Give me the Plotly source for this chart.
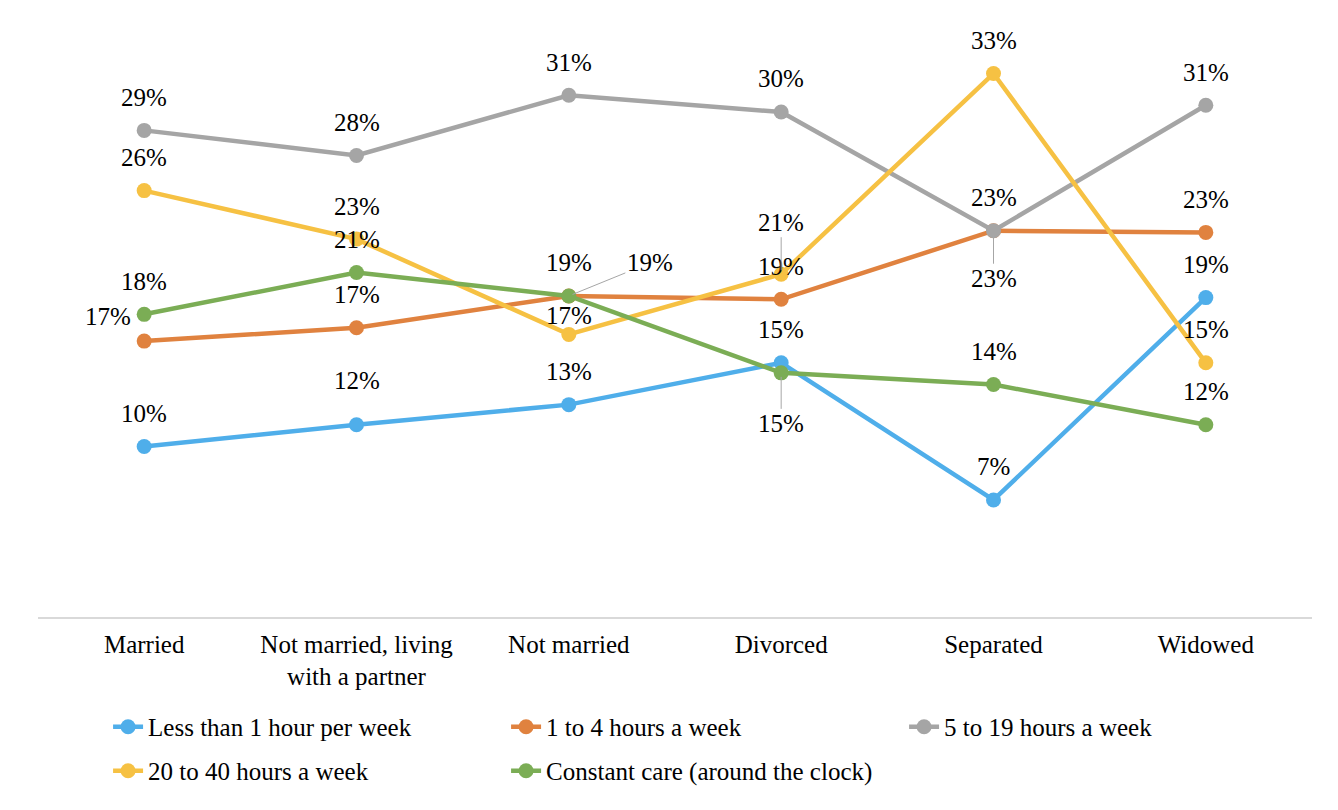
import math
import plotly.graph_objects as go

# ---------------- data ----------------
categories = ["Married", "Not married, living with a partner", "Not married",
              "Divorced", "Separated", "Widowed"]
tick_labels = ["Married", "Not married, living<br>with a partner", "Not married",
               "Divorced", "Separated", "Widowed"]

series_names = ["Less than 1 hour per week", "1 to 4 hours a week",
                "5 to 19 hours a week", "20 to 40 hours a week",
                "Constant care (around the clock)"]

less_than_1h = [10.2, 11.5, 12.7, 15.2, 7.0, 19.1]
one_to_4h = [16.5, 17.3, 19.2, 19.0, 23.1, 23.0]
five_to_19h = [29.1, 27.6, 31.2, 30.2, 23.1, 30.6]
twenty_to_40h = [25.5, 22.6, 16.9, 20.5, 32.5, 15.2]
constant_care = [18.1, 20.6, 19.2, 14.6, 13.9, 11.5]

# ---------------- styles ----------------
colors = ["#4FAEEA", "#E0823F", "#A5A5A5", "#F6C143", "#7BAD55"]
FONT = "Liberation Serif"
FS = 25

series_values = [less_than_1h, one_to_4h, five_to_19h, twenty_to_40h, constant_care]
legend_ids = ["legend", "legend", "legend", "legend2", "legend2"]

# label offsets in pixels (dx, dy, leader line) per series per category
DEFAULT = (0, -33, False)
label_offsets = [[DEFAULT] * 6 for _ in range(5)]
label_offsets[0][1] = (0, -44, False)
label_offsets[1][0] = (-36, -25, False)
label_offsets[1][4] = (0, 48, True)
label_offsets[3][2] = (0, -19, False)
label_offsets[3][3] = (0, -52, True)
label_offsets[4][2] = (81, -33, True)
label_offsets[4][3] = (0, 51, True)


def pct(v):
    return f"{int(math.floor(v + 0.5))}%"


fig = go.Figure()
annotations = []
for i, (name, vals) in enumerate(zip(series_names, series_values)):
    fig.add_trace(go.Scatter(
        x=categories, y=vals, name=name, mode="lines+markers",
        line=dict(color=colors[i], width=4.5),
        marker=dict(color=colors[i], size=15),
        legend=legend_ids[i],
        hoverinfo="skip",
    ))
    for j, (c, v) in enumerate(zip(categories, vals)):
        dx, dy, leader = label_offsets[i][j]
        if leader:
            annotations.append(dict(
                x=c, y=v, xref="x", yref="y", text=pct(v),
                showarrow=True, arrowhead=0, arrowwidth=1, arrowcolor="#A6A6A6",
                ax=dx, ay=dy, standoff=4,
                font=dict(family=FONT, size=FS, color="black"),
            ))
        else:
            annotations.append(dict(
                x=c, y=v, xref="x", yref="y", text=pct(v),
                showarrow=False, xshift=dx, yshift=-dy,
                xanchor="center", yanchor="middle",
                font=dict(family=FONT, size=FS, color="black"),
            ))

legend_common = dict(
    orientation="h", xanchor="left", yanchor="middle",
    entrywidth=353, entrywidthmode="pixels",
    font=dict(family=FONT, size=FS, color="black"),
    bgcolor="rgba(0,0,0,0)", itemclick=False, itemdoubleclick=False,
)

fig.update_layout(
    width=1338, height=810,
    margin=dict(l=38, r=26, t=15, b=193),
    paper_bgcolor="white", plot_bgcolor="white",
    font=dict(family=FONT, size=FS, color="black"),
    xaxis=dict(
        type="category", categoryorder="array", categoryarray=categories,
        tickmode="array", tickvals=categories, ticktext=tick_labels,
        showline=True, linecolor="#D9D9D9", linewidth=1.5,
        showgrid=False, zeroline=False, ticks="",
        ticklabelstandoff=4,
        tickfont=dict(family=FONT, size=FS, color="black"),
        range=[-0.5, 5.5], fixedrange=True,
    ),
    yaxis=dict(range=[0, 36], visible=False, showgrid=False, fixedrange=True),
    legend=dict(x=0.055, y=-0.1827, **legend_common),
    legend2=dict(x=0.055, y=-0.2558, **legend_common),
    annotations=annotations,
    showlegend=True,
)

fig.write_html("out.html")
